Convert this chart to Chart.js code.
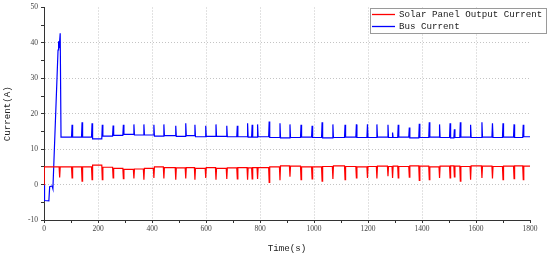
<!DOCTYPE html>
<html>
<head>
<meta charset="utf-8">
<script src="https://cdn.jsdelivr.net/npm/chart.js@4/dist/chart.umd.min.js"></script>
<style>
  html, body { margin: 0; padding: 0; background: #fff; }
  #wrap { width: 550px; height: 256px; }
</style>
</head>
<body>
<div id="wrap"><canvas id="chart" width="550" height="256"></canvas></div>
<script>
// start-up phase (time in s, current in A)
const startTime  = [0, 2, 18, 21, 30, 33, 52, 54, 56, 60, 63];
const startBus   = [0, -4.5, -4.6, -0.6, -0.4, -1.2, 38, 40.5, 38.5, 42.7, 13.4];
const startTimeSolar = [0, 1, 56, 58, 60];
const startSolar = [0, 5.0, 5.0, 2.0, 5.0];

// periodic spikes after start-up
const spikeTimes = [104, 141, 178, 216, 256, 294, 333, 370, 407, 444, 488, 525, 559, 599, 637, 677,
  716, 754, 771, 791, 834, 874, 911, 952, 993, 1030, 1070, 1115, 1157, 1198, 1233, 1274, 1291, 1312,
  1353, 1390, 1427, 1465, 1504, 1520, 1542, 1580, 1622, 1661, 1700, 1741, 1775];
const busPeaks = [16.9, 17.6, 17.3, 16.9, 16.7, 16.9, 17.0, 17.0, 16.9, 17.0, 16.6, 17.3, 16.9, 16.6, 17.0, 16.6,
  16.6, 17.3, 16.9, 17.0, 17.8, 17.3, 17.0, 16.9, 16.6, 17.6, 17.0, 16.9, 17.0, 17.0, 17.0, 16.9, 14.7, 16.9,
  16.1, 17.2, 17.6, 17.0, 17.3, 15.6, 17.6, 16.9, 17.6, 17.3, 17.3, 17.0, 16.9];
const busBase = [13.4, 13.4, 12.9, 13.7, 13.9, 14.2, 14.0, 14.0, 13.7, 13.8, 13.6, 13.8, 13.5, 13.6, 13.6, 13.5,
  13.5, 13.4, 13.4, 13.5, 13.3, 13.2, 13.3, 13.4, 13.3, 13.2, 13.3, 13.4, 13.3, 13.3, 13.4, 13.3, 13.3, 13.4,
  13.2, 13.3, 13.4, 13.3, 13.2, 13.3, 13.4, 13.3, 13.4, 13.3, 13.4, 13.3, 13.5];
const solarDips = [1.9, 0.95, 1.4, 1.4, 1.9, 1.7, 1.7, 1.4, 1.9, 1.7, 1.4, 1.7, 1.4, 1.9, 1.4, 1.6,
  1.6, 1.4, 1.6, 1.6, 0.65, 1.2, 2.2, 1.4, 1.6, 0.95, 1.6, 1.4, 1.9, 1.9, 1.7, 2.35, 1.9, 1.9,
  2.1, 1.2, 1.4, 1.9, 1.9, 2.2, 0.95, 1.4, 1.9, 1.7, 1.4, 1.7, 1.4];
const solarBase = [5.0, 5.0, 5.5, 4.9, 4.6, 4.3, 4.4, 4.6, 5.0, 4.8, 4.7, 4.8, 4.6, 4.8, 4.6, 4.7,
  4.8, 4.7, 4.8, 4.8, 5.0, 5.3, 5.2, 5.0, 5.0, 5.1, 5.3, 5.1, 5.0, 5.1, 5.2, 5.1, 5.2, 5.1,
  5.3, 5.2, 5.0, 5.2, 5.3, 5.2, 5.1, 5.3, 5.2, 5.1, 5.2, 5.3, 5.2];
const endTime = 1800;

function buildSeries(t0, v0, peaks, bases) {
  let pts = t0.map((t, i) => ({x: t, y: v0[i]}));
  let prev = v0[v0.length - 1];
  spikeTimes.forEach((t, i) => {
    pts.push({x: t - 2, y: prev});
    pts.push({x: t, y: peaks[i]});
    pts.push({x: t + 2, y: bases[i]});
    prev = bases[i];
  });
  pts.push({x: endTime, y: prev});
  return pts;
}

const monoFont = "'Liberation Mono', 'DejaVu Sans Mono', monospace";
const tickFont = "'Liberation Serif', 'DejaVu Serif', serif";

// legend drawn inside the plot, top right
const legendBox = {
  id: 'legendBox',
  afterDraw(chart) {
    const ctx = chart.ctx;
    ctx.save();
    ctx.fillStyle = '#fff';
    ctx.fillRect(370.5, 8.5, 176, 25);
    ctx.strokeStyle = '#9a9a9a';
    ctx.lineWidth = 1;
    ctx.strokeRect(370.5, 8.5, 176, 25);
    ctx.font = '9.2px ' + monoFont;
    ctx.textBaseline = 'middle';
    chart.data.datasets.forEach((ds, i) => {
      const y = 14.5 + i * 12;
      ctx.strokeStyle = ds.borderColor;
      ctx.lineWidth = 1.3;
      ctx.beginPath();
      ctx.moveTo(372, y);
      ctx.lineTo(395, y);
      ctx.stroke();
      ctx.fillStyle = '#222';
      ctx.fillText(ds.label, 399, y + 0.5);
    });
    ctx.restore();
  }
};

const gridColor = (ctx, step, min, max) => {
  const v = ctx.tick ? ctx.tick.value : null;
  if (v === null || v === min || v === max) return 'rgba(0,0,0,0)';
  return (v % step === 0) ? '#c4c4c4' : 'rgba(0,0,0,0)';
};

new Chart(document.getElementById('chart'), {
  type: 'line',
  data: {
    datasets: [
      {
        label: 'Solar Panel Output Current',
        data: buildSeries(startTimeSolar, startSolar, solarDips, solarBase),
        borderColor: '#ff0000',
        borderWidth: 1.2,
        pointRadius: 0,
        tension: 0,
      },
      {
        label: 'Bus Current',
        data: buildSeries(startTime, startBus, busPeaks, busBase),
        borderColor: '#0000ff',
        borderWidth: 1.2,
        pointRadius: 0,
        tension: 0,
      },
    ]
  },
  options: {
    responsive: false,
    animation: false,
    layout: { padding: { top: 7, right: 20, left: 0, bottom: 0 } },
    plugins: {
      legend: { display: false },
      tooltip: { enabled: false },
    },
    scales: {
      x: {
        type: 'linear',
        min: 0,
        max: 1800,
        afterFit: (s) => { s.height = 36; },
        ticks: {
          stepSize: 100,
          autoSkip: false,
          maxRotation: 0,
          padding: 2,
          color: '#444',
          font: { family: tickFont, size: 7.5 },
          callback: (v) => (v % 200 === 0 ? v : ''),
        },
        grid: {
          color: (ctx) => gridColor(ctx, 200, 0, 1800),
          tickColor: '#333',
          tickLength: 3,
          lineWidth: 1,
        },
        border: { display: true, color: '#333', width: 1, dash: [1, 2] },
        title: {
          display: true,
          text: 'Time(s)',
          color: '#222',
          font: { family: monoFont, size: 9.2 },
          padding: { top: 2, bottom: 2 },
        },
      },
      y: {
        min: -10,
        max: 50,
        afterFit: (s) => { s.width = 44; },
        ticks: {
          stepSize: 5,
          autoSkip: false,
          padding: 3,
          color: '#444',
          font: { family: tickFont, size: 7.5 },
          callback: (v) => (v % 10 === 0 ? v : ''),
        },
        grid: {
          color: (ctx) => gridColor(ctx, 10, -10, 50),
          tickColor: '#333',
          tickLength: 3,
          lineWidth: 1,
        },
        border: { display: true, color: '#333', width: 1, dash: [1, 2] },
        title: {
          display: true,
          text: 'Current(A)',
          color: '#222',
          font: { family: monoFont, size: 9.2 },
          padding: { top: 2, bottom: 2 },
        },
      },
    },
  },
  plugins: [legendBox],
});
</script>
</body>
</html>
